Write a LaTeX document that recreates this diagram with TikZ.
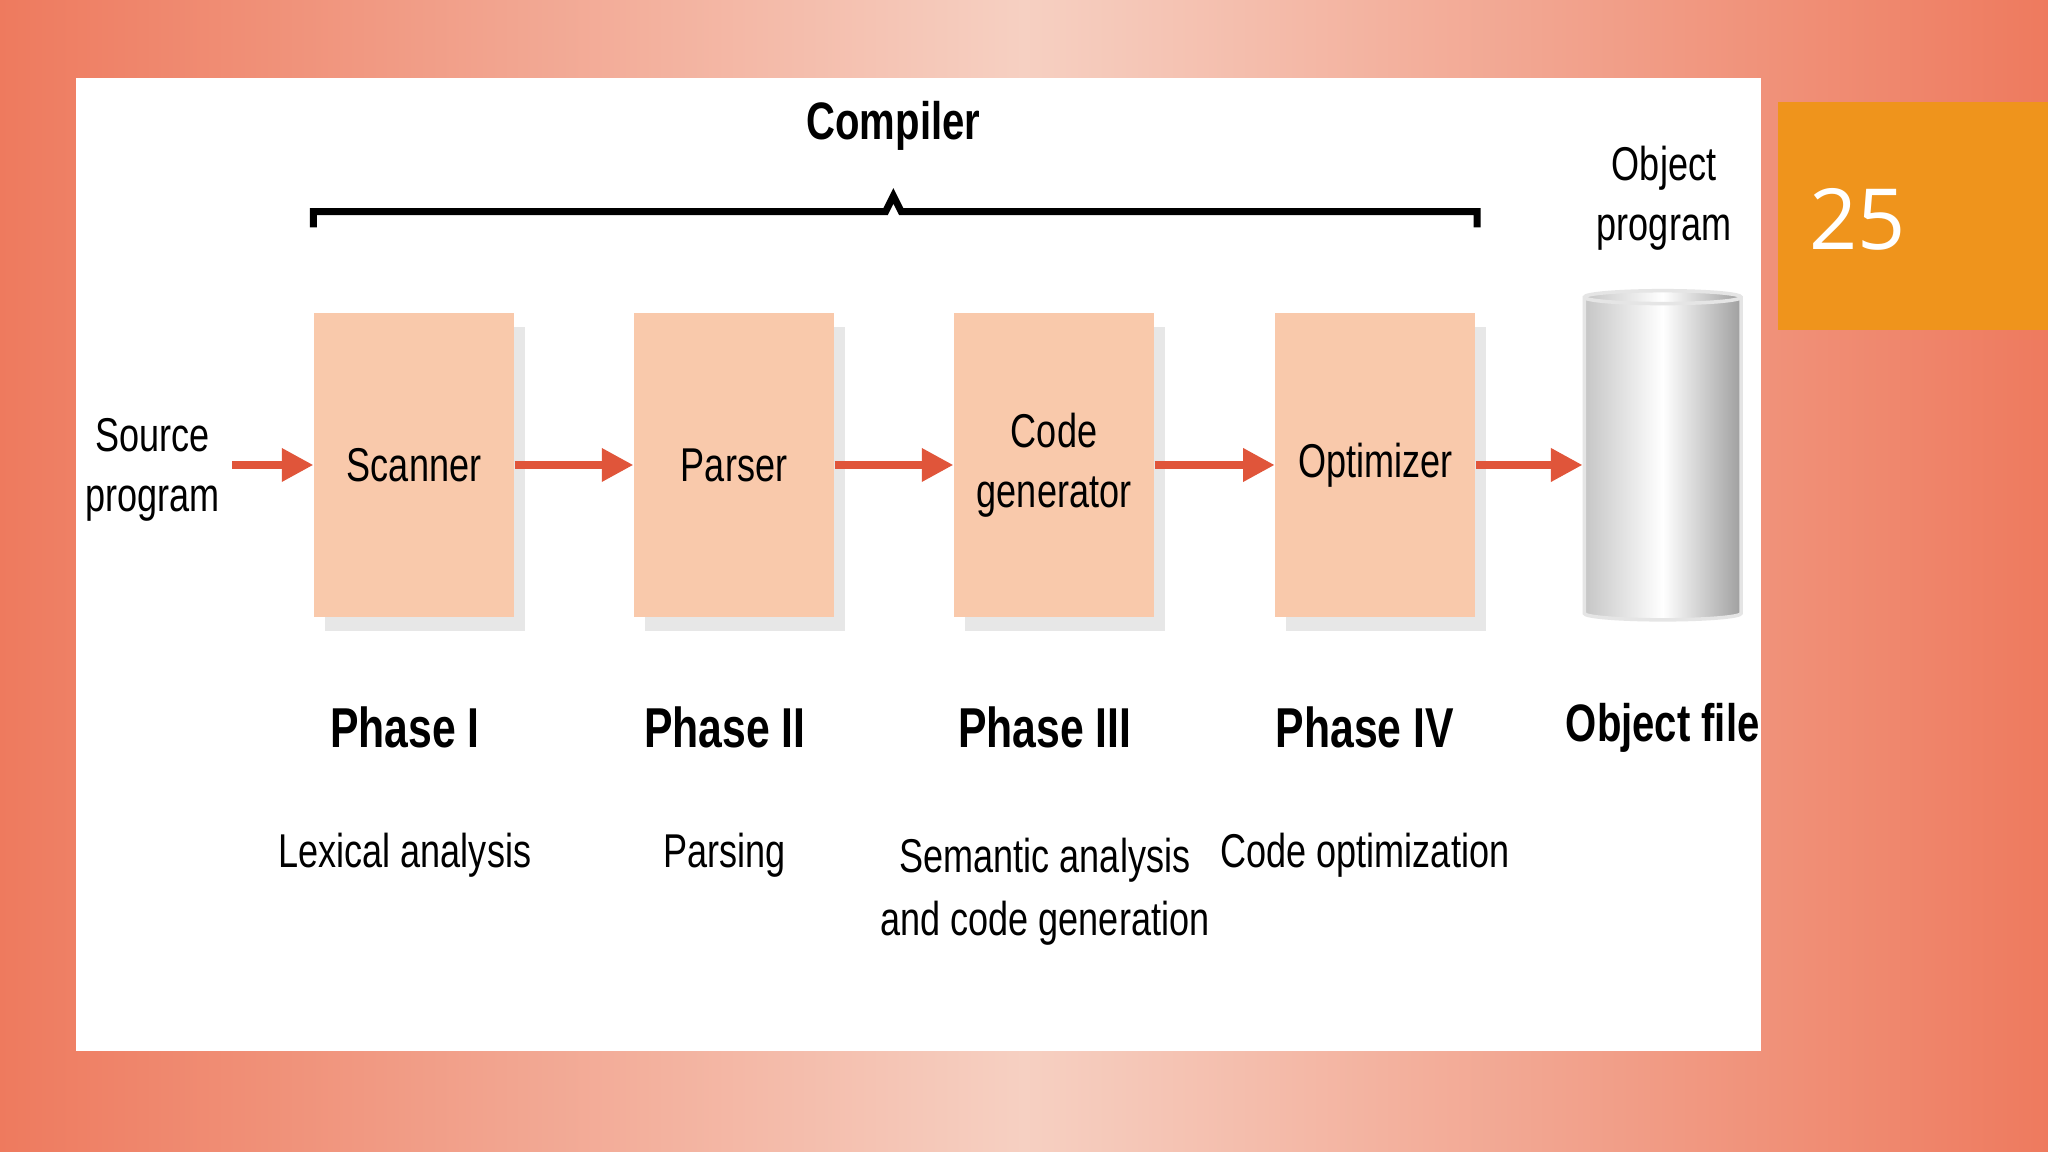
\documentclass[tikz,border=0pt]{standalone}
\usepackage{fontspec}
\setmainfont{Liberation Sans}[FakeStretch=0.76]
\newfontfamily\numfont{Open Sans}
\usetikzlibrary{arrows.meta,shadows,shapes.geometric}
\definecolor{bgedge}{HTML}{EE7A5E}
\definecolor{bgmid}{HTML}{F6D0C2}
\definecolor{boxfill}{HTML}{F9C9AB}
\definecolor{arrowred}{HTML}{E0553A}
\definecolor{tagorange}{HTML}{EF941C}
\tikzset{
  phasebox/.style={draw=none,fill=boxfill,inner sep=1pt,text width=140*0.01306cm,minimum width=153*0.01306cm,minimum height=233*0.01306cm,
    drop shadow={shadow xshift=3pt,shadow yshift=-4pt,fill=black!30,opacity=0.3},align=center,font=\fontsize{13.5}{17}\selectfont},
  flow/.style={-{Triangle[length=9pt,width=9pt]},line width=2.2pt,arrowred},
  phaselbl/.style={font=\fontsize{16}{19}\selectfont\bfseries},
  desclbl/.style={font=\fontsize{13.5}{18}\selectfont,align=center},
  plain/.style={font=\fontsize{13.5}{17}\selectfont,align=center}
}
\begin{document}
\begin{tikzpicture}[x=0.01306cm,y=-0.01306cm]
\useasboundingbox (0,0) rectangle (1568,882);
\shade[left color=bgedge,right color=bgedge,middle color=bgmid] (0,0) rectangle (1568,882);
\fill[white] (58,60) rectangle (1348,805);
\fill[tagorange] (1361,78) rectangle (1568,253);
\node[text=white,font=\numfont\fontsize{24}{28}\selectfont] (num) at (1422,168) {25};
\node[font=\fontsize{15}{18}\selectfont\bfseries] (comp) at (684,96) {Compiler};
\draw[line width=2pt] (240,174) -- (240,162) -- (678,162) -- (684,150) -- (690,162) -- (1131,162) -- (1131,174);
\node[phasebox] (scan) at (317,356) {Scanner};
\node[phasebox] (pars) at (562,356) {Parser};
\node[phasebox] (cgen) at (807,356) {Code\\generator};
\node[phasebox] (opt) at (1053,356) {Optimizer};
\node[plain] (src) at (117,360) {Source\\program};
\node[plain] (objp) at (1274,152) {Object\\program};
\node[cylinder,shape border rotate=90,aspect=0.55,minimum width=120*0.01306cm,minimum height=252*0.01306cm,
  shading=axis,left color=gray!45,right color=gray!75,middle color=white,shading angle=90,draw=gray!20,line width=1pt] (cyl) at (1273,353) {};
\draw[flow] (src.east |- scan.west) -- (scan.west);
\draw[flow] (scan.east) -- (pars.west);
\draw[flow] (pars.east) -- (cgen.west);
\draw[flow] (cgen.east) -- (opt.west);
\draw[flow] (opt.east) -- (cyl.west|-opt.east);
\node[phaselbl] (p1) at (310,557) {Phase I};
\node[phaselbl] (p2) at (555,557) {Phase II};
\node[phaselbl] (p3) at (800,557) {Phase III};
\node[phaselbl] (p4) at (1045,557) {Phase IV};
\node[phaselbl,font=\fontsize{15}{19}\selectfont\bfseries] (p5) at (1273,557) {Object file};
\node[desclbl] (d1) at (310,655) {Lexical analysis};
\node[desclbl] (d2) at (555,655) {Parsing};
\node[desclbl,anchor=north] (d3) at (800,632) {Semantic analysis\\and code generation};
\node[desclbl] (d4) at (1045,655) {Code optimization};
\end{tikzpicture}
\end{document}
